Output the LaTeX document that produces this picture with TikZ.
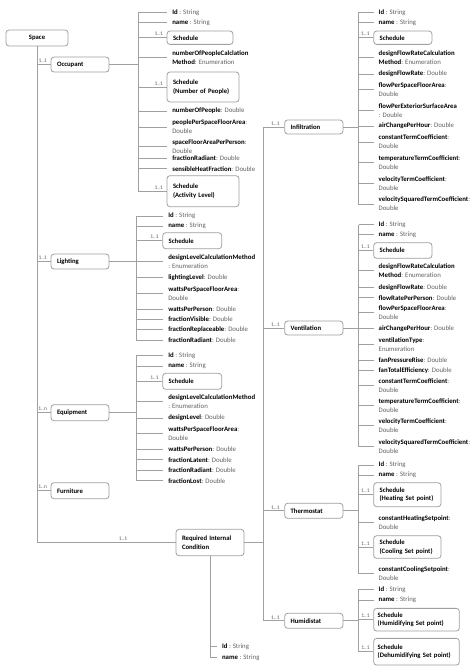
\documentclass[tikz,border=0pt]{standalone}
\usepackage{fontspec}
\setmainfont{Carlito}
\definecolor{lncol}{HTML}{A0A0A0}
\definecolor{boxcol}{HTML}{A0A0A0}
\definecolor{typecol}{HTML}{606060}
\newcommand\atn[1]{\textcolor{black}{\bfseries #1}}
\tikzset{
  ln/.style={draw=lncol, line width=0.8pt},
  box/.style={draw=boxcol, line width=0.8pt, rounded corners=3pt, fill=white,
    inner xsep=6pt, inner ysep=1pt, align=left, text width=#1,
    font=\fontsize{6.7}{8.8}\selectfont\bfseries},
  attr/.style={anchor=west, inner sep=0pt, outer xsep=5pt, align=left,
    font=\fontsize{6.8}{9}\selectfont, text=typecol},
  lbl/.style={font=\fontsize{5.5}{6}\selectfont, text=typecol, inner sep=0.5pt, anchor=south east},
}
\begin{document}
\begin{tikzpicture}[x=1pt,y=-1pt]
\useasboundingbox (0,0) rectangle (474,672);
% ---------- main boxes
\node[box=50pt, align=center, minimum height=16pt] (space) at (37,38) {Space};
\node[box=46pt, minimum height=15pt] (occ) at (80,64.5) {Occupant};
\node[box=46pt, minimum height=15pt] (light) at (80,261.5) {Lighting};
\node[box=46pt, minimum height=16pt] (equip) at (80,412.7) {Equipment};
\node[box=46pt, minimum height=16pt] (furn) at (80,490.7) {Furniture};
\node[box=56pt, minimum height=26.4pt] (ric) at (210,542.5) {Required Internal\\Condition};
\node[box=46.3pt, minimum height=14pt] (infil) at (313.8,127) {Infiltration};
\node[box=46.3pt, minimum height=14pt] (vent) at (313.8,328) {Ventilation};
\node[box=46.3pt, minimum height=15pt] (thermo) at (313.8,510.8) {Thermostat};
\node[box=46.3pt, minimum height=15pt] (humid) at (313.8,620.8) {Humidistat};
% ---------- schedule boxes
\node[box=54pt, minimum height=13.3pt] (os1) at (200,37.7) {Schedule};
\node[box=60pt, minimum height=30pt] (os2) at (203,87) {Schedule\\(Number of People)};
\node[box=60pt, minimum height=31pt] (os3) at (203,191.2) {Schedule\\(Activity Level)};
\node[box=47pt, minimum height=16pt] (ls) at (192.2,240.7) {Schedule};
\node[box=47pt, minimum height=16pt] (es) at (192.2,381.3) {Schedule};
\node[box=46.3pt, minimum height=13.3pt] (is) at (402.8,37.7) {Schedule};
\node[box=46.3pt, minimum height=15.6pt] (vs) at (402.8,250.5) {Schedule};
\node[box=55.3pt, minimum height=24pt] (th1) at (407.3,494.7) {Schedule\\(Heating Set point)};
\node[box=55.3pt, minimum height=22.6pt] (th2) at (407.3,547) {Schedule\\(Cooling Set point)};
\node[box=77.6pt, inner xsep=4pt, minimum height=22.7pt] (hu1) at (416.5,619.7) {Schedule\\(Humidifying Set point)};
\node[box=77.6pt, inner xsep=4pt, minimum height=26.7pt] (hu2) at (416.5,651.7) {Schedule\\(Dehumidifying Set point)};
% ---------- occupant attributes
\node[attr] (o1) at (167.3,12.3) {\atn{Id} : String};
\node[attr] (o2) at (167.3,22.7) {\atn{name} : String};
\node[attr] (o3) at (167.3,57.5) {\atn{numberOfPeopleCalclation}\\\atn{Method}: Enumeration};
\node[attr] (o4) at (167.3,111) {\atn{numberOfPeople}: Double};
\node[attr] (o5) at (167.3,127) {\atn{peoplePerSpaceFloorArea}:\\Double};
\node[attr, font=\fontsize{6.8}{8.2}\selectfont] (o6) at (167.3,146.7) {\atn{spaceFloorAreaPerPerson}:\\Double};
\node[attr] (o7) at (167.3,158.3) {\atn{fractionRadiant}: Double};
\node[attr] (o8) at (167.3,168.7) {\atn{sensibleHeatFraction}: Double};
% ---------- lighting attributes
\node[attr] (l1) at (163.3,216) {\atn{Id} : String};
\node[attr] (l2) at (163.3,226) {\atn{name} : String};
\node[attr] (l3) at (163.3,261.2) {\atn{designLevelCalculationMethod}\\: Enumeration};
\node[attr] (l4) at (163.3,277.3) {\atn{lightingLevel}: Double};
\node[attr] (l5) at (163.3,293.7) {\atn{wattsPerSpaceFloorArea}:\\Double};
\node[attr] (l6) at (163.3,309.3) {\atn{wattsPerPerson}: Double};
\node[attr] (l7) at (163.3,319) {\atn{fractionVisible}: Double};
\node[attr] (l8) at (163.3,329.3) {\atn{fractionReplaceable}: Double};
\node[attr] (l9) at (163.3,340) {\atn{fractionRadiant}: Double};
% ---------- equipment attributes
\node[attr] (e1) at (163.3,355.7) {\atn{Id} : String};
\node[attr] (e2) at (163.3,366) {\atn{name} : String};
\node[attr] (e3) at (163.3,401.7) {\atn{designLevelCalculationMethod}\\: Enumeration};
\node[attr] (e4) at (163.3,418) {\atn{designLevel}: Double};
\node[attr] (e5) at (163.3,433.7) {\atn{wattsPerSpaceFloorArea}:\\Double};
\node[attr] (e6) at (163.3,449) {\atn{wattsPerPerson}: Double};
\node[attr] (e7) at (163.3,459.7) {\atn{fractionLatent}: Double};
\node[attr] (e8) at (163.3,470) {\atn{fractionRadiant}: Double};
\node[attr] (e9) at (163.3,480.7) {\atn{fractionLost}: Double};
% ---------- infiltration attributes
\node[attr] (i1) at (373.7,12.3) {\atn{Id} : String};
\node[attr] (i2) at (373.7,22.7) {\atn{name} : String};
\node[attr] (i3) at (373.7,57.7) {\atn{designFlowRateCalculation}\\\atn{Method}: Enumeration};
\node[attr] (i4) at (373.7,74) {\atn{designFlowRate}: Double};
\node[attr] (i5) at (373.7,89.7) {\atn{flowPerSpaceFloorArea}:\\Double};
\node[attr] (i6) at (373.7,110.7) {\atn{flowPerExteriorSurfaceArea}\\: Double};
\node[attr] (i7) at (373.7,126) {\atn{airChangePerHour}: Double};
\node[attr] (i8) at (373.7,142) {\atn{constantTermCoefficient}:\\Double};
\node[attr] (i9) at (373.7,162.5) {\atn{temperatureTermCoefficient}:\\Double};
\node[attr] (i10) at (373.7,183.8) {\atn{velocityTermCoefficient}:\\Double};
\node[attr] (i11) at (373.7,204) {\atn{velocitySquaredTermCoefficient}:\\Double};
% ---------- ventilation attributes
\node[attr] (v1) at (373.7,224.5) {\atn{Id} : String};
\node[attr] (v2) at (373.7,234.5) {\atn{name} : String};
\node[attr] (v3) at (373.7,270.7) {\atn{designFlowRateCalculation}\\\atn{Method}: Enumeration};
\node[attr] (v4) at (373.7,287.3) {\atn{designFlowRate}: Double};
\node[attr] (v5) at (373.7,297.7) {\atn{flowRatePerPerson}: Double};
\node[attr] (v6) at (373.7,312.7) {\atn{flowPerSpaceFloorArea}:\\Double};
\node[attr] (v7) at (373.7,328.3) {\atn{airChangePerHour}: Double};
\node[attr] (v8) at (373.7,344.5) {\atn{ventilationType}:\\Enumeration};
\node[attr] (v9) at (373.7,360) {\atn{fanPressureRise}: Double};
\node[attr] (v10) at (373.7,370.3) {\atn{fanTotalEfficiency}: Double};
\node[attr] (v11) at (373.7,385.5) {\atn{constantTermCoefficient}:\\Double};
\node[attr] (v12) at (373.7,405.7) {\atn{temperatureTermCoefficient}:\\Double};
\node[attr] (v13) at (373.7,425.8) {\atn{velocityTermCoefficient}:\\Double};
\node[attr] (v14) at (373.7,446.8) {\atn{velocitySquaredTermCoefficient}:\\Double};
% ---------- thermostat attributes
\node[attr] (t1) at (373.7,465) {\atn{Id} : String};
\node[attr] (t2) at (373.7,475) {\atn{name} : String};
\node[attr] (t3) at (373.7,522.3) {\atn{constantHeatingSetpoint}:\\Double};
\node[attr] (t4) at (373.7,573.7) {\atn{constantCoolingSetpoint}:\\Double};
% ---------- humidistat attributes
\node[attr] (h1) at (373.7,589.3) {\atn{Id} : String};
\node[attr] (h2) at (373.7,600) {\atn{name} : String};
% ---------- RIC attributes
\node[attr] (r1) at (217,646.3) {\atn{Id} : String};
\node[attr] (r2) at (217,657.3) {\atn{name} : String};
% ---------- trunk coordinates
\coordinate (occT) at (138,0);
\coordinate (ligT) at (136,0);
\coordinate (eqT) at (136,0);
\coordinate (rT) at (263.7,0);
\coordinate (rgT) at (358.7,0);
% ---------- connectors: Space
\draw[ln] (space.south) -- (space.south |- ric.west) -- (ric.west);
\foreach \n in {occ,light,equip,furn} \draw[ln] (space.south |- \n.west) -- (\n.west);
% Occupant
\draw[ln] (occ.east) -- (occT |- occ.east);
\draw[ln] (occT |- o1.west) -- (occT |- os3.west) -- (os3.west);
\foreach \n in {o1,o2,os1,o3,os2,o4,o5,o6,o7,o8} \draw[ln] (occT |- \n.west) -- (\n.west);
% Lighting
\draw[ln] (light.east) -- (ligT |- light.east);
\draw[ln] (ligT |- l1.west) -- (ligT |- l9.west) -- (l9.west);
\foreach \n in {l1,l2,ls,l3,l4,l5,l6,l7,l8} \draw[ln] (ligT |- \n.west) -- (\n.west);
% Equipment
\draw[ln] (equip.east) -- (eqT |- equip.east);
\draw[ln] (eqT |- e1.west) -- (eqT |- e9.west) -- (e9.west);
\foreach \n in {e1,e2,es,e3,e4,e5,e6,e7,e8} \draw[ln] (eqT |- \n.west) -- (\n.west);
% Required Internal Condition
\draw[ln] (ric.east) -- (rT |- ric.east);
\draw[ln] (rT |- infil.west) -- (rT |- humid.west) -- (humid.west);
\foreach \n in {infil,vent,thermo} \draw[ln] (rT |- \n.west) -- (\n.west);
\draw[ln] (ric.south) -- (ric.south |- r2.west) -- (r2.west);
\draw[ln] (ric.south |- r1.west) -- (r1.west);
% Infiltration
\draw[ln] (infil.east) -- (rgT |- infil.east);
\draw[ln] (rgT |- i1.west) -- (rgT |- i11.west) -- (i11.west);
\foreach \n in {i1,i2,is,i3,i4,i5,i6,i7,i8,i9,i10} \draw[ln] (rgT |- \n.west) -- (\n.west);
% Ventilation
\draw[ln] (vent.east) -- (rgT |- vent.east);
\draw[ln] (rgT |- v1.west) -- (rgT |- v14.west) -- (v14.west);
\foreach \n in {v1,v2,vs,v3,v4,v5,v6,v7,v8,v9,v10,v11,v12,v13} \draw[ln] (rgT |- \n.west) -- (\n.west);
% Thermostat
\draw[ln] (thermo.east) -- (rgT |- thermo.east);
\draw[ln] (rgT |- t1.west) -- (rgT |- t4.west) -- (t4.west);
\foreach \n in {t1,t2,th1,t3,th2} \draw[ln] (rgT |- \n.west) -- (\n.west);
% Humidistat
\draw[ln] (humid.east) -- (rgT |- humid.east);
\draw[ln] (rgT |- h1.west) -- (rgT |- hu2.west) -- (hu2.west);
\foreach \n in {h1,h2,hu1} \draw[ln] (rgT |- \n.west) -- (\n.west);
% ---------- multiplicity labels
\node[lbl] (m1) at ([xshift=-3pt,yshift=1pt]occ.west) {1..1};
\node[lbl] (m2) at ([xshift=-3pt,yshift=1pt]light.west) {1..1};
\node[lbl] (m3) at ([xshift=-3pt,yshift=1pt]equip.west) {1..n};
\node[lbl] (m4) at ([xshift=-3pt,yshift=1pt]furn.west) {1..n};
\node[lbl, anchor=south] (m5) at (123,541) {1..1};
\node[lbl] (m6) at ([xshift=-3pt,yshift=1pt]os1.west) {1..1};
\node[lbl] (m7) at ([xshift=-3pt,yshift=1pt]os2.west) {1..1};
\node[lbl] (m8) at ([xshift=-3pt,yshift=1pt]os3.west) {1..1};
\node[lbl] (m9) at ([xshift=-3pt,yshift=1pt]ls.west) {1..1};
\node[lbl] (m10) at ([xshift=-3pt,yshift=1pt]es.west) {1..1};
\node[lbl] (m11) at ([xshift=-4pt,yshift=1pt]infil.west) {1..1};
\node[lbl] (m12) at ([xshift=-4pt,yshift=1pt]vent.west) {1..1};
\node[lbl] (m13) at ([xshift=-4pt,yshift=1pt]thermo.west) {1..1};
\node[lbl] (m14) at ([xshift=-4pt,yshift=1pt]humid.west) {1..1};
\node[lbl] (m15) at ([xshift=-3pt,yshift=1pt]is.west) {1..1};
\node[lbl] (m16) at ([xshift=-3pt,yshift=1pt]vs.west) {1..1};
\node[lbl] (m17) at ([xshift=-3pt,yshift=1pt]th1.west) {1..1};
\node[lbl] (m18) at ([xshift=-3pt,yshift=1pt]th2.west) {1..1};
\node[lbl] (m19) at ([xshift=-3pt,yshift=1pt]hu1.west) {1..1};
\node[lbl] (m20) at ([xshift=-3pt,yshift=1pt]hu2.west) {1..1};
\end{tikzpicture}
\end{document}
